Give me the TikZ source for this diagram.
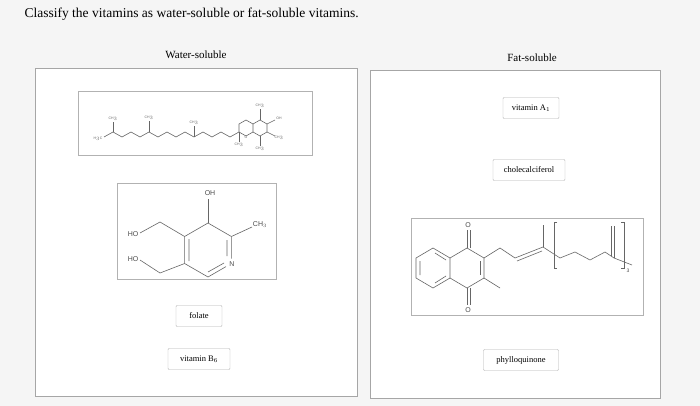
\documentclass[tikz,border=0pt]{standalone}
\usepackage{fontspec}
\setmainfont{Liberation Serif}
\newfontfamily\chemfont{Liberation Sans}
\begin{document}
\begin{tikzpicture}[x=1pt,y=-1pt,
  panel/.style={draw=black!35,line width=0.8pt,fill=white},
  molbox/.style={draw=black!30,line width=0.8pt,fill=white},
  lbl/.style={draw=black!30,fill=white,rounded corners=1pt,font=\fontsize{8.5}{9}\selectfont,inner sep=3pt,minimum height=21pt},
  bond/.style={black!60,line width=0.6pt},
  atom/.style={font=\chemfont\fontsize{7}{8}\selectfont,inner sep=0.5pt,text=black!70},
  tiny/.style={font=\chemfont\fontsize{3.5}{4}\selectfont,inner sep=0.2pt,text=black!60}]
\fill[black!4] (0,0) rectangle (700,406);
\node[anchor=west,font=\fontsize{13.5}{15}\selectfont] (title) at (21,14) {Classify the vitamins as water-soluble or fat-soluble vitamins.};
\node[font=\fontsize{11}{12}\selectfont] (hw) at (196,55) {Water-soluble};
\node[font=\fontsize{11}{12}\selectfont] (hf) at (532,58) {Fat-soluble};
\draw[panel] (35,68) rectangle (357,396);
\draw[panel] (370,70) rectangle (660,398);
% tocopherol
\draw[molbox] (78,91) rectangle (312,155);
\draw[bond] (104,137) -- (113,132) -- (122,137) -- (131,132) -- (140,137) -- (149,132) -- (158,137) -- (167,132) -- (176,137) -- (185,132) -- (194,137) -- (203,132) -- (212,137) -- (221,132) -- (230,137) -- (239,132);
\draw[bond] (113,132) -- (113,122); \draw[bond] (149,132) -- (149,121); \draw[bond] (194,137) -- (194,126);
\node[tiny] (t1) at (98,139) {H$_3$C}; \node[tiny] (t2) at (113,119) {CH$_3$};
\node[tiny] (t3) at (149,118) {CH$_3$}; \node[tiny] (t4) at (194,123) {CH$_3$};
\draw[bond] (239,132) -- (239,124) -- (246,120) -- (253,124) -- (253,132) -- (246,136) -- cycle;
\draw[bond] (253,124) -- (260,120) -- (267,124) -- (267,132) -- (260,136) -- (253,132);
\draw[bond] (239,132) -- (239,142); \node[tiny] (t5) at (239,145) {CH$_3$};
\node[tiny] (t6) at (246,137) {O};
\draw[bond] (260,120) -- (260,109); \node[tiny] (t7) at (260,106) {CH$_3$};
\draw[bond] (267,124) -- (275,120); \node[tiny] (t8) at (279,118) {OH};
\draw[bond] (267,132) -- (275,136); \node[tiny] (t9) at (279,138) {CH$_3$};
\draw[bond] (260,136) -- (260,146); \node[tiny] (t10) at (260,149) {CH$_3$};
% pyridoxine
\draw[molbox] (117,183) rectangle (276,279);
\draw[bond] (231.4,258.5) -- (231.4,236.5) -- (208,223) -- (184.6,236.5) -- (184.6,263.5) -- (208,277) -- (226,266.6);
\draw[bond] (189,239) -- (189,261) (227,240) -- (227,256) (208,272) -- (224,263);
\draw[bond] (208,223) -- (208,199); \node[atom] (oh) at (210,193) {OH};
\draw[bond] (231.4,236.5) -- (252,227); \node[atom] (me) at (260,225) {CH$_3$};
\node[atom] (n) at (232,264) {N};
\draw[bond] (184.6,236.5) -- (160,222) -- (140,233); \node[atom] (ho1) at (133,234) {HO};
\draw[bond] (184.6,263.5) -- (160,273) -- (140,260); \node[atom] (ho2) at (133,259) {HO};
\node[lbl,minimum width=46pt] (folate) at (199,316) {folate};
\node[lbl,minimum width=62pt] (b6) at (199,359) {vitamin B$_6$};
\node[lbl,minimum width=56pt] (a1) at (531,108) {vitamin A$_1$};
\node[lbl,minimum width=72pt] (chol) at (529,170) {cholecalciferol};
\node[lbl,minimum width=75pt] (phyl) at (521,360) {phylloquinone};
% phylloquinone
\draw[molbox] (411,218) rectangle (643,315);
\draw[bond] (433,248) -- (450,258) -- (450,278) -- (433,288) -- (416,278) -- (416,258) -- cycle;
\draw[bond] (435,253) -- (446,260) (420,261) -- (420,275) (435,283) -- (446,276);
\draw[bond] (450,258) -- (467,248) -- (484,258) -- (484,278) -- (467,288) -- (450,278);
\draw[bond] (480,261) -- (480,275);
\draw[bond] (467,248) -- (467,230); \draw[bond] (470,248) -- (470,230); \node[atom] (o1) at (468,225) {O};
\draw[bond] (467,288) -- (467,305); \draw[bond] (470,288) -- (470,305); \node[atom] (o2) at (468,310) {O};
\draw[bond] (484,278) -- (500,288);
\draw[bond] (484,258) -- (500,248) -- (515,258) -- (543,247);
\draw[bond] (517,261) -- (542,251);
\draw[bond] (543,247) -- (543,225);
\draw[bond] (557,222) -- (554,222) -- (554,268) -- (557,268);
\draw[bond] (543,247) -- (560,258) -- (575,252) -- (590,260) -- (605,252) -- (614,258) -- (632,265);
\draw[bond] (611,256) -- (611,226) (614,258) -- (614,226);
\draw[bond] (621,222) -- (624,222) -- (624,268) -- (621,268);
\node[atom] (sub) at (628,271) {\fontsize{5}{5}\selectfont 3};
\end{tikzpicture}
\end{document}
